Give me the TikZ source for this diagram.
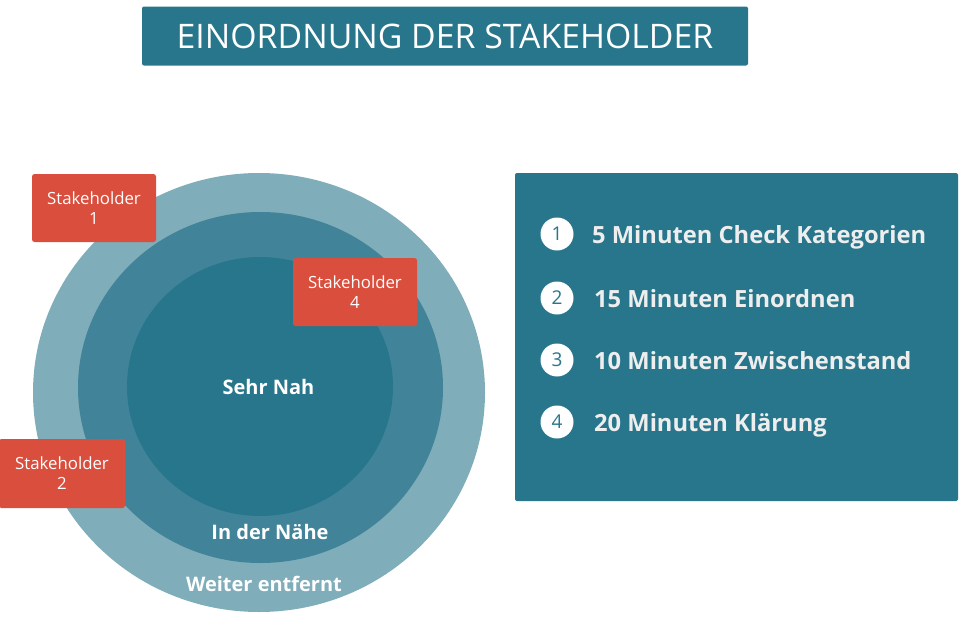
\documentclass[tikz,border=0pt]{standalone}
\usepackage{fontspec}
\setmainfont{Open Sans}
\definecolor{teal1}{HTML}{27768B}
\definecolor{teal2}{HTML}{418499}
\definecolor{teal3}{HTML}{7FADBA}
\definecolor{redbox}{HTML}{D94E3D}
\definecolor{offwhite}{HTML}{EEEEEE}
\tikzset{
  shbox/.style={fill=redbox, rounded corners=2.5pt, text=white, align=center,
    font=\fontsize{16.8}{20}\selectfont, minimum width=124pt, minimum height=68pt, inner sep=0pt},
  zonelabel/.style={text=white, font=\fontsize{20}{24}\selectfont\bfseries},
  numcirc/.style={circle, fill=white, minimum size=33pt, inner sep=0pt, text=teal1,
    font=\fontsize{19}{22}\selectfont},
  listtext/.style={anchor=base west, text=offwhite, font=\fontsize{23.7}{28}\selectfont\bfseries, inner sep=0pt}
}
\begin{document}
\begin{tikzpicture}[x=1pt,y=-1pt]
\useasboundingbox (0,0) rectangle (980,616);
% title
\node (title) [fill=teal1, rounded corners=2pt, text=white, minimum width=606pt, minimum height=59pt,
  inner sep=0pt, font=\fontsize{33.8}{40}\selectfont] at (445,36) {EINORDNUNG DER STAKEHOLDER};
% rings
\fill[teal3] (259,392.5) ellipse [x radius=226, y radius=219.5];
\fill[teal2] (260.5,387.5) ellipse [x radius=182.5, y radius=175.5];
\fill[teal1] (260,386.5) ellipse [x radius=133, y radius=129.5];
\node (sehr) [zonelabel] at (268.5,387) {Sehr Nah};
\node (naehe) [zonelabel] at (270,532) {In der Nähe};
\node (weiter) [zonelabel] at (264,584) {Weiter entfernt};
% stakeholders
\node (s1) [shbox] at (94,208) {Stakeholder\\1};
\node (s4) [shbox] at (355,292) {Stakeholder\\4};
\node (s2) [shbox, minimum width=126pt, minimum height=69pt] at (62,473.5) {Stakeholder\\2};
% right panel
\node (panel) [fill=teal1, rounded corners=2pt, minimum width=443pt, minimum height=328pt, inner sep=0pt] at (736.5,337) {};
\node (c1) [numcirc] at (557,234) {1};
\node (c2) [numcirc] at (557,298) {2};
\node (c3) [numcirc] at (557,360) {3};
\node (c4) [numcirc] at (557,422) {4};
\node (t1) [listtext] at (592,243) {5 Minuten Check Kategorien};
\node (t2) [listtext] at (594,307) {15 Minuten Einordnen};
\node (t3) [listtext] at (594,369) {10 Minuten Zwischenstand};
\node (t4) [listtext] at (594,431) {20 Minuten Klärung};
\end{tikzpicture}
\end{document}
